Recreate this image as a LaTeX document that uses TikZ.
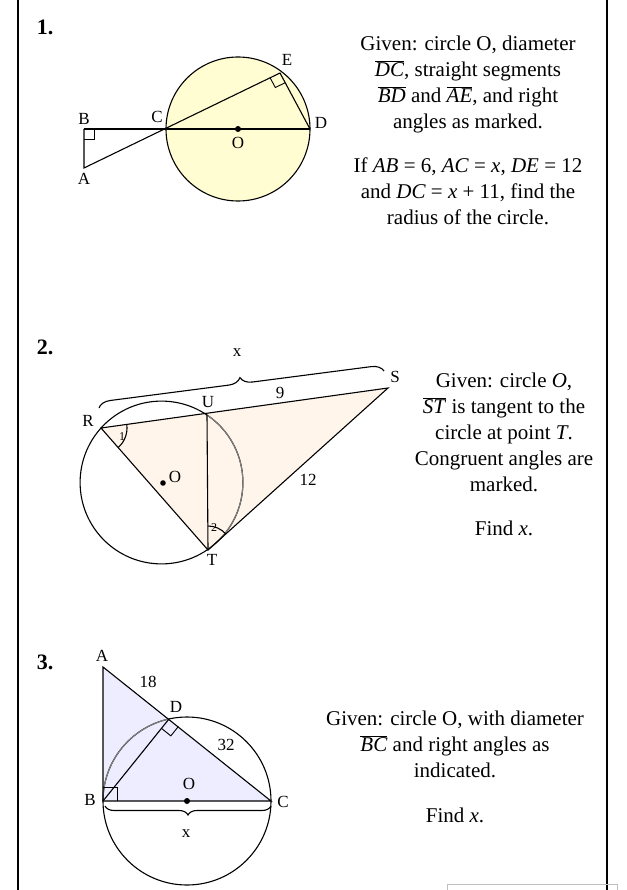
\documentclass[tikz,border=0pt]{standalone}
\usepackage{fontspec}
\setmainfont{Liberation Serif}
\usetikzlibrary{calc,decorations.pathreplacing}
\newcommand{\ovl}[1]{$\overline{\mbox{\textit{#1}}}$}
\begin{document}
\begin{tikzpicture}[x=1pt,y=-1pt,
  lab/.style={font=\fontsize{17}{17}\selectfont,inner sep=1pt},
  txt/.style={font=\fontsize{21}{26}\selectfont,align=center,inner sep=0pt},
  num/.style={font=\fontsize{22}{22}\selectfont\bfseries,inner sep=0pt},
  geo/.style={line width=1.1pt},
  ra/.style={line width=0.9pt}]
\useasboundingbox (0,0) rectangle (626,890);
\fill[white] (0,0) rectangle (626,890);
\draw[line width=1.6pt] (18,0) -- (18,890);
\draw[line width=1.6pt] (607,0) -- (607,890);
\draw[gray!50] (447,890) -- (447,884) -- (617,884) -- (617,890);
% ---------- Problem 1
\node[num] (n1) at (45,27) {1.};
\coordinate (O1) at (238,129);
\coordinate (C1) at (166,129);
\coordinate (D1) at (310,129);
\coordinate (E1) at (280,73);
\coordinate (B1) at (84,129);
\coordinate (A1) at (84,168);
\fill[yellow!18] (O1) circle (72);
\draw[geo] (O1) circle (72);
\draw[geo] (B1) -- (D1);
\draw[geo] (B1) -- (A1) -- (E1) -- (D1);
\fill (O1) circle (3);
\draw[ra] (B1) ++(10,0) -- ++(0,10) -- ++(-10,0);
\coordinate (p1) at ($(E1)!11pt!(C1)$);
\coordinate (q1) at ($(E1)!11pt!(D1)$);
\draw[ra] (p1) -- ($(p1)+(q1)-(E1)$) -- (q1);
\node[lab] (lB1) at (84,119) {B};
\node[lab] (lA1) at (84,179) {A};
\node[lab] (lC1) at (157,117) {C};
\node[lab] (lE1) at (287,60) {E};
\node[lab] (lD1) at (321,123) {D};
\node[lab] (lO1) at (238,143) {O};
\node[txt] (t1) at (468,84) {Given: circle O, diameter\\ \ovl{DC}, straight segments\\ \ovl{BD} and \ovl{AE}, and right\\ angles as marked.};
\node[txt] (t1b) at (468,191) {If \textit{AB} = 6, \textit{AC} = \textit{x}, \textit{DE} = 12\\ and \textit{DC} = \textit{x} + 11, find the\\ radius of the circle.};
% ---------- Problem 2
\node[num] (n2) at (45,347) {2.};
\coordinate (R) at (101,428);
\coordinate (U) at (207,415);
\coordinate (S) at (388,388);
\coordinate (T) at (208,550);
\coordinate (O2) at (161.5,482.5);
\fill[orange!8] (R) -- (S) -- (T) -- cycle;
\draw[geo] (O2) circle (81.4);
\draw[gray,line width=1.1pt] (U) arc[start angle=-56,end angle=56,radius=81.4];
\draw[geo] (R) -- (S) -- (T) -- cycle;
\draw[geo] (U) -- (T);
\draw[geo] ($(R)+(-7:26)$) arc[start angle=-7,end angle=48.7,radius=26];
\draw[geo] ($(T)+(-90.4:24)$) arc[start angle=-90.4,end angle=-42,radius=24];
\fill (163,483) circle (2.8);
\draw[geo,decorate,decoration={brace,amplitude=12pt}] (99,408) -- (384,371);
\node[lab] (lx2) at (237,353) {x};
\node[lab] (lR) at (88,421) {R};
\node[lab] (lU) at (208,402) {U};
\node[lab] (lS) at (395,377) {S};
\node[lab] (lT) at (212,560) {T};
\node[lab] (lO2) at (175,477) {O};
\node[lab] (l9) at (280,393) {9};
\node[lab] (l12) at (308,480) {12};
\node[lab,font=\fontsize{12}{12}\selectfont] (l1) at (122,437) {1};
\node[lab,font=\fontsize{12}{12}\selectfont] (l2) at (214,528) {2};
\node[txt] (t2) at (504,432) {Given: circle \textit{O},\\ \ovl{ST} is tangent to the\\ circle at point \textit{T}.\\ Congruent angles are\\ marked.};
\node[txt] (t2b) at (504,528) {Find \textit{x}.};
% ---------- Problem 3
\node[num] (n3) at (45,662) {3.};
\coordinate (A3) at (103,667);
\coordinate (B3) at (103,801);
\coordinate (C3) at (271,801);
\coordinate (O3) at (187,801);
\coordinate (D3) at (169,719);
\fill[blue!7] (A3) -- (B3) -- (C3) -- cycle;
\draw[geo] (O3) circle (84);
\draw[gray,line width=1.1pt] (B3) arc[start angle=180,end angle=257.6,radius=84];
\draw[geo] (A3) -- (B3) -- (C3) -- cycle;
\draw[geo] (B3) -- (D3);
\fill (O3) circle (3);
\draw[ra] (B3) ++(0,-14) -- ++(14,0) -- ++(0,14);
\coordinate (p3) at ($(D3)!12pt!(C3)$);
\coordinate (q3) at ($(D3)!12pt!(B3)$);
\draw[ra] (p3) -- ($(p3)+(q3)-(D3)$) -- (q3);
\draw[geo,decorate,decoration={brace,amplitude=9pt}] (271,806) -- (105,806);
\node[lab] (lx3) at (186,834) {x};
\node[lab] (lA3) at (102,656) {A};
\node[lab] (lB3) at (90,800) {B};
\node[lab] (lC3) at (283,802) {C};
\node[lab] (lD3) at (176,707) {D};
\node[lab] (lO3) at (189,784) {O};
\node[lab] (l18) at (148,682) {18};
\node[lab] (l32) at (226,745) {32};
\node[txt] (t3) at (455,744) {Given: circle O, with diameter\\ \ovl{BC} and right angles as\\ indicated.};
\node[txt] (t3b) at (455,815) {Find \textit{x}.};
\end{tikzpicture}
\end{document}
